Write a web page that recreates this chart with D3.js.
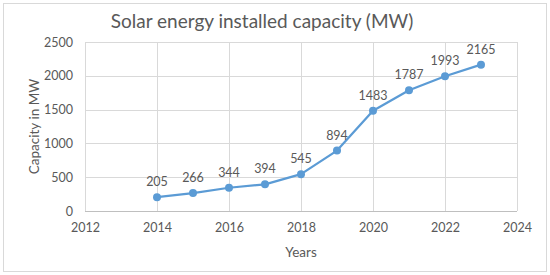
<!DOCTYPE html>
<html>
<head>
<meta charset="utf-8">
<script src="https://cdn.jsdelivr.net/npm/d3@7"></script>
<style>
  body { margin: 0; background: #fff; }
  text { font-family: Lato, "Open Sans", sans-serif; fill: #595959; }
</style>
</head>
<body>
<div id="chart"></div>
<script>
const years = [2014, 2015, 2016, 2017, 2018, 2019, 2020, 2021, 2022, 2023];
const capacity = [205, 266, 344, 394, 545, 894, 1483, 1787, 1993, 2165];
const xTicks = [2012, 2014, 2016, 2018, 2020, 2022, 2024];
const yTicks = [0, 500, 1000, 1500, 2000, 2500];

let svgWidth = 550,
    svgHeight = 275,
    margin = {top: 42, right: 33, bottom: 64, left: 85},
    plotWidth = svgWidth - margin.left - margin.right,
    plotHeight = svgHeight - margin.top - margin.bottom;

let svg = d3.select('#chart').append('svg')
            .attr('width', svgWidth)
            .attr('height', svgHeight);

// chart frame
svg.append('rect')
   .attr('x', 3.5).attr('y', 3.5)
   .attr('width', svgWidth - 7).attr('height', svgHeight - 7)
   .attr('fill', 'white').attr('stroke', '#d9d9d9');

svg.append('text')
   .attr('x', 262).attr('y', 28)
   .attr('text-anchor', 'middle')
   .attr('font-size', 19)
   .text('Solar energy installed capacity (MW)');

let plot = svg.append('g')
              .attr('transform', `translate(${margin.left}, ${margin.top})`);

let xScale = d3.scaleLinear().domain([2012, 2024]).range([0, plotWidth]),
    yScale = d3.scaleLinear().domain([0, 2500]).range([plotHeight, 0]);

// gridlines
plot.append('g').selectAll('line')
    .data(yTicks).enter().append('line')
    .attr('x1', 0).attr('x2', plotWidth)
    .attr('y1', d => Math.round(yScale(d)) + 0.5).attr('y2', d => Math.round(yScale(d)) + 0.5)
    .attr('stroke', d => d === 0 ? '#bfbfbf' : '#d9d9d9');
plot.append('g').selectAll('line')
    .data(xTicks).enter().append('line')
    .attr('y1', 0).attr('y2', plotHeight)
    .attr('x1', d => Math.round(xScale(d)) + 0.5).attr('x2', d => Math.round(xScale(d)) + 0.5)
    .attr('stroke', '#d9d9d9');

// axes labels
let xAxis = d3.axisBottom(xScale).tickValues(xTicks).tickFormat(d3.format('d')).tickSize(0).tickPadding(12);
plot.append('g').attr('transform', `translate(0, ${plotHeight})`).call(xAxis);
let yAxis = d3.axisLeft(yScale).tickValues(yTicks).tickFormat(d3.format('d')).tickSize(0).tickPadding(12);
plot.append('g').call(yAxis);
svg.selectAll('.domain').remove();
svg.selectAll('.tick text')
   .attr('font-family', null)
   .attr('font-size', 12.5)
   .attr('fill', '#595959');

svg.append('text')
   .attr('x', margin.left + plotWidth / 2).attr('y', 257)
   .attr('text-anchor', 'middle')
   .attr('font-size', 13.5)
   .text('Years');
svg.append('text')
   .attr('transform', `translate(39, ${margin.top + plotHeight / 2}) rotate(-90)`)
   .attr('text-anchor', 'middle')
   .attr('font-size', 13.5)
   .text('Capacity in MW');

// line + markers
let data = years.map((y, i) => ({year: y, value: capacity[i]}));
let line = d3.line().x(d => xScale(d.year)).y(d => yScale(d.value));
plot.append('path')
    .datum(data)
    .attr('d', line)
    .attr('fill', 'none')
    .attr('stroke', '#5b9bd5')
    .attr('stroke-width', 2.25)
    .attr('stroke-linejoin', 'round');
plot.append('g').selectAll('circle')
    .data(data).enter().append('circle')
    .attr('cx', d => xScale(d.year))
    .attr('cy', d => yScale(d.value))
    .attr('r', 4)
    .attr('fill', '#5b9bd5');
plot.append('g').selectAll('text')
    .data(data).enter().append('text')
    .attr('x', d => xScale(d.year))
    .attr('y', d => yScale(d.value) - 11)
    .attr('text-anchor', 'middle')
    .attr('font-size', 12.5)
    .attr('fill', '#404040')
    .text(d => d.value);
</script>
</body>
</html>
